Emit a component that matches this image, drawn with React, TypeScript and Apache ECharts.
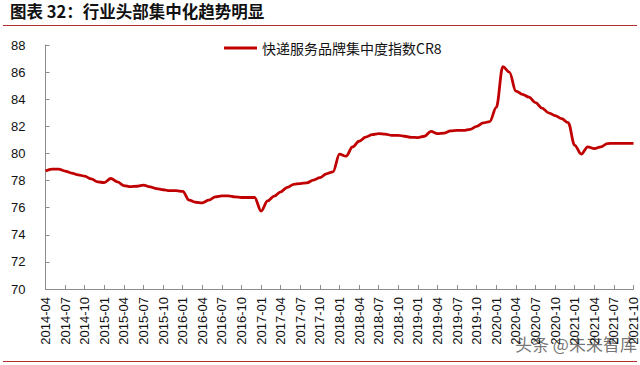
import React, { useEffect, useRef } from "react";
import * as echarts from "echarts";

const seriesName = "快递服务品牌集中度指数CR8";

const startYear = 2014;
const startMonth = 4;
const monthCount = 91;
const categories: string[] = [];
for (let i = 0; i < monthCount; i++) {
  const m = startMonth - 1 + i;
  const y = startYear + Math.floor(m / 12);
  const mm = (m % 12) + 1;
  categories.push(`${y}-${mm < 10 ? "0" + mm : mm}`);
}

const values2014 = [78.7, 78.85, 78.85, 78.7, 78.55, 78.42, 78.32, 78.12, 77.9];
const values2015 = [77.85, 78.15, 77.9, 77.63, 77.55, 77.58, 77.66, 77.53, 77.4, 77.32, 77.25, 77.25];
const values2016 = [77.2, 76.55, 76.4, 76.36, 76.55, 76.8, 76.87, 76.87, 76.8, 76.75, 76.75, 76.75];
const values2017 = [75.75, 76.5, 76.85, 77.17, 77.5, 77.72, 77.78, 77.83, 78.03, 78.22, 78.5, 78.64];
const values2018 = [79.95, 79.8, 80.48, 80.9, 81.2, 81.39, 81.46, 81.42, 81.34, 81.34, 81.27, 81.19];
const values2019 = [81.17, 81.27, 81.63, 81.46, 81.5, 81.66, 81.7, 81.7, 81.78, 82.0, 82.25, 82.35];
const values2020 = [83.4, 86.4, 86.0, 84.6, 84.36, 84.16, 83.75, 83.35, 83.0, 82.79, 82.57, 82.27];
const values2021 = [80.6, 79.95, 80.48, 80.36, 80.48, 80.73, 80.75, 80.75, 80.75, 80.75];

const cr8Values = [
  ...values2014,
  ...values2015,
  ...values2016,
  ...values2017,
  ...values2018,
  ...values2019,
  ...values2020,
  ...values2021,
];

const yMin = 70;
const yMax = 88;
const yInterval = 2;

const titleText = "图表 32：行业头部集中化趋势明显";
const watermarkText = "头条 @未来智库";

export default function App() {
  const ref = useRef<HTMLDivElement>(null);
  useEffect(() => {
    if (!ref.current) return;
    const chart = echarts.init(ref.current, null, { renderer: "svg" });
    const lineColor = "#c00000";
    const axisColor = "#8c8c8c";
    chart.setOption({
      animation: false,
      backgroundColor: "#ffffff",
      grid: { left: 45.5, right: 6.5, top: 45, bottom: 76, containLabel: false },
      legend: {
        left: 219,
        top: 36,
        icon: "rect",
        itemWidth: 33,
        itemHeight: 3,
        itemGap: 5,
        textStyle: { fontSize: 14, color: "#111", fontFamily: "Noto Sans CJK SC" },
        data: [seriesName],
      },
      xAxis: {
        type: "category",
        boundaryGap: false,
        data: categories,
        axisLine: { lineStyle: { color: axisColor, width: 1 } },
        axisTick: { inside: true, length: 4, interval: 2, lineStyle: { color: axisColor } },
        axisLabel: {
          interval: 2,
          rotate: 90,
          margin: 8,
          fontSize: 13,
          color: "#111",
          fontFamily: "Liberation Sans",
        },
        splitLine: { show: false },
      },
      yAxis: {
        type: "value",
        min: yMin,
        max: yMax,
        interval: yInterval,
        axisLine: { show: true, lineStyle: { color: axisColor, width: 1 } },
        axisTick: { show: true, inside: true, length: 4, lineStyle: { color: axisColor } },
        axisLabel: { margin: 20, fontSize: 13, color: "#111", fontFamily: "Liberation Sans" },
        splitLine: { show: false },
      },
      series: [
        {
          name: seriesName,
          type: "line",
          data: cr8Values,
          smooth: 0.35,
          smoothMonotone: "x",
          showSymbol: false,
          symbol: "none",
          lineStyle: { color: lineColor, width: 2.8 },
          itemStyle: { color: lineColor },
        },
      ],
      graphic: [
        {
          type: "text",
          left: 10,
          top: 3,
          style: {
            text: titleText,
            font: "bold 16.5px 'Noto Sans CJK SC'",
            fill: "#111",
          },
        },
        {
          type: "line",
          shape: { x1: 3, y1: 25.5, x2: 637, y2: 25.5 },
          style: { stroke: "#b03030", lineWidth: 1 },
        },
        {
          type: "line",
          shape: { x1: 3, y1: 361.5, x2: 637, y2: 361.5 },
          style: { stroke: "#b03030", lineWidth: 1 },
        },
        {
          type: "text",
          left: 514,
          top: 334,
          style: {
            text: watermarkText,
            font: "17px 'Noto Sans CJK SC'",
            fill: "rgba(80,80,80,0.8)",
            stroke: "rgba(255,255,255,0.85)",
            lineWidth: 2,
          },
        },
      ],
    });
    return () => chart.dispose();
  }, []);
  return (
    <div
      ref={ref}
      style={{ position: "fixed", left: 0, top: 0, width: 640, height: 365 }}
    />
  );
}
